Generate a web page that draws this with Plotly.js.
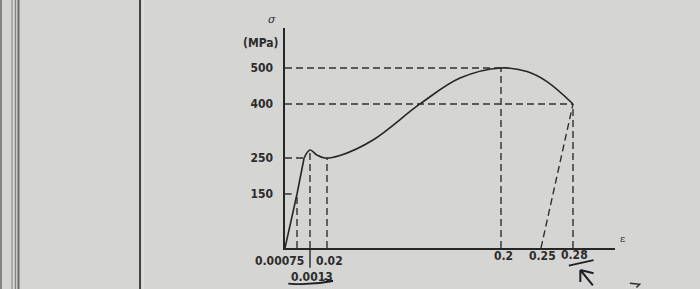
<!DOCTYPE html>
<html>
<head>
<meta charset="utf-8">
<script src="https://cdn.plot.ly/plotly-3.0.1.min.js"></script>
<style>html,body{margin:0;padding:0;background:#d5d5d3;}#chart{width:700px;height:289px;}</style>
</head>
<body>
<div id="chart"></div>
<script>
// ---- data (strain ε, stress σ in MPa) ----
const elasticStrain = [0, 0.00075, 0.00105];
const elasticStress = [0, 150, 250];
const curveStrain = [0.00105, 0.0013, 0.009, 0.0175, 0.0334, 0.0676, 0.1162, 0.1576, 0.2, 0.2325, 0.2556, 0.28];
const curveStress = [250, 272, 258, 250, 257, 300, 400, 472, 500, 490, 462, 400];
const strainTicks = [0.00075, 0.0013, 0.02, 0.2, 0.25, 0.28];
const strainTickText = ['0.00075', '0.0013', '0.02', '0.2', '0.25', '0.28'];
const stressTicks = [150, 250, 400, 500];
const stressTickText = ['150', '250', '400', '500'];
const yieldStress = 250, ultimateStress = 500, fractureStress = 400, propStress = 150, upperYield = 272;

// ---- schematic (not-to-scale) strain axis: piecewise-linear scale ----
const anchorStrain = [0, 0.00075, 0.0013, 0.02, 0.2, 0.25, 0.28, 0.4];
const anchorPos = [0, 12, 25, 42, 216, 256, 288, 400];
function sx(s) {
  for (let i = 1; i < anchorStrain.length; i++) {
    if (s <= anchorStrain[i]) {
      const t = (s - anchorStrain[i-1]) / (anchorStrain[i] - anchorStrain[i-1]);
      return anchorPos[i-1] + t * (anchorPos[i] - anchorPos[i-1]);
    }
  }
  return anchorPos[anchorPos.length-1];
}

const ink = '#262626';
const txt = '#2c2c2c';
const font = {family: 'DejaVu Sans Condensed, DejaVu Sans, Arial, sans-serif', size: 12, color: txt, weight: 'bold'};

const traces = [
  {x: elasticStrain.map(sx), y: elasticStress, mode: 'lines', line: {color: ink, width: 1.6}, hoverinfo: 'skip'},
  {x: curveStrain.map(sx), y: curveStress, mode: 'lines', line: {color: ink, width: 1.6, shape: 'spline', smoothing: 1}, hoverinfo: 'skip'}
];

const dash = {color: '#303030', width: 1.4, dash: '7px,4px'};
function seg(x0, y0, x1, y1, line) { return {type: 'line', xref: 'x', yref: 'y', x0: x0, y0: y0, x1: x1, y1: y1, line: line || dash, layer: 'below'}; }
const fracture = strainTicks[5];
const shapes = [
  seg(0, ultimateStress, sx(0.2), ultimateStress),
  seg(0, fractureStress, sx(fracture), fractureStress),
  seg(0, yieldStress, sx(0.00105), yieldStress),
  seg(sx(strainTicks[0]), 0, sx(strainTicks[0]), propStress),
  seg(sx(strainTicks[1]), 0, sx(strainTicks[1]), upperYield),
  seg(sx(strainTicks[2]), 0, sx(strainTicks[2]), yieldStress),
  seg(sx(strainTicks[3]), 0, sx(strainTicks[3]), ultimateStress),
  seg(sx(strainTicks[4]), 0, sx(fracture), fractureStress),
  seg(sx(fracture), 0, sx(fracture), fractureStress),
  // small tick at 150
  {type: 'line', xref: 'paper', yref: 'y', x0: 0, x1: 0.02, y0: propStress, y1: propStress, line: {color: ink, width: 1.4}},
  // extension of the 0.0013 tick below the axis
  {type: 'line', xref: 'x', yref: 'paper', x0: sx(strainTicks[1]), x1: sx(strainTicks[1]), y0: 0, y1: -0.09, line: {color: ink, width: 1.4}},
  // page edges / binding lines (photo background)
  {type: 'line', xref: 'paper', yref: 'paper', x0: -284/330, x1: -284/330, y0: -0.2, y1: 1.2, line: {color: '#7a7a7a', width: 1.8}},
  {type: 'line', xref: 'paper', yref: 'paper', x0: -273/330, x1: -273/330, y0: -0.2, y1: 1.2, line: {color: '#8e8e8e', width: 1.2}},
  {type: 'line', xref: 'paper', yref: 'paper', x0: -269.5/330, x1: -269.5/330, y0: -0.2, y1: 1.2, line: {color: '#828282', width: 1.3}},
  {type: 'line', xref: 'paper', yref: 'paper', x0: -266.5/330, x1: -266.5/330, y0: -0.2, y1: 1.2, line: {color: '#6a6a6a', width: 2}},
  {type: 'line', xref: 'paper', yref: 'paper', x0: -145/330, x1: -145/330, y0: -0.2, y1: 1.2, line: {color: '#333333', width: 1.8}},
  {type: 'line', xref: 'paper', yref: 'paper', x0: -142/330, x1: -142/330, y0: -0.2, y1: 1.2, line: {color: '#e4e4e2', width: 1}},
  // pen marks
  {type: 'path', xref: 'paper', yref: 'paper', path: 'M 0.01,-0.162 Q 0.08,-0.17 0.145,-0.15 L 0.12,-0.14', line: {color: '#1e1e24', width: 1.8}},
  {type: 'path', xref: 'paper', yref: 'paper', path: 'M 0.86,-0.08 L 0.935,-0.055', line: {color: '#1e1e24', width: 1.8}},
  {type: 'path', xref: 'paper', yref: 'paper', path: 'M 0.933,-0.17 L 0.895,-0.1 M 0.895,-0.1 L 0.895,-0.155 M 0.895,-0.1 L 0.935,-0.115', line: {color: '#1e1e24', width: 2}},
  {type: 'path', xref: 'paper', yref: 'paper', path: 'M 1.045,-0.16 L 1.075,-0.165 L 1.065,-0.18', line: {color: '#2a2a2a', width: 1.4}}
];

const ann = [];
function lab(text, x, xanchor, yshift) {
  ann.push({text: text, x: x, xref: 'x', y: 0, yref: 'paper', xanchor: xanchor, yanchor: 'middle', yshift: yshift, showarrow: false, font: font});
}
lab(strainTickText[0], sx(strainTicks[0]) + 9, 'right', -13);
lab(strainTickText[1], sx(strainTicks[1]) + 2, 'center', -29);
lab(strainTickText[2], sx(strainTicks[2]) + 2, 'center', -13);
lab(strainTickText[3], sx(strainTicks[3]) + 2, 'center', -8);
lab(strainTickText[4], sx(strainTicks[4]) + 1, 'center', -8);
lab(strainTickText[5], sx(strainTicks[5]) + 1, 'center', -7);
ann.push({text: 'ε', x: 1.008, xref: 'paper', y: 0, yref: 'paper', xanchor: 'left', yanchor: 'middle', yshift: 10, showarrow: false, font: {family: 'DejaVu Serif, serif', size: 10, color: txt}});
ann.push({text: '<i>σ</i>', x: -0.04, xref: 'paper', y: 1, yref: 'paper', xanchor: 'center', yanchor: 'middle', yshift: 9, showarrow: false, font: {family: 'DejaVu Serif, serif', size: 11, color: txt}});
ann.push({text: '(MPa)', x: -0.012, xref: 'paper', y: 1, yref: 'paper', xanchor: 'right', yanchor: 'middle', yshift: -15, showarrow: false, font: font});

const layout = {
  width: 700, height: 289,
  margin: {l: 285, r: 85, t: 28, b: 41},
  paper_bgcolor: '#d5d5d3', plot_bgcolor: 'rgba(0,0,0,0)',
  showlegend: false,
  xaxis: {range: [0, 330], showgrid: false, zeroline: false, showline: true, linecolor: ink, linewidth: 1.6, showticklabels: false, ticks: '', fixedrange: true},
  yaxis: {range: [0, 611], showgrid: false, zeroline: false, showline: true, linecolor: ink, linewidth: 1.6,
          tickvals: stressTicks, ticktext: stressTickText, ticks: '', ticklabelstandoff: 8, tickfont: font, fixedrange: true},
  shapes: shapes,
  annotations: ann
};
Plotly.newPlot('chart', traces, layout, {staticPlot: true, displayModeBar: false});
</script>
</body>
</html>
